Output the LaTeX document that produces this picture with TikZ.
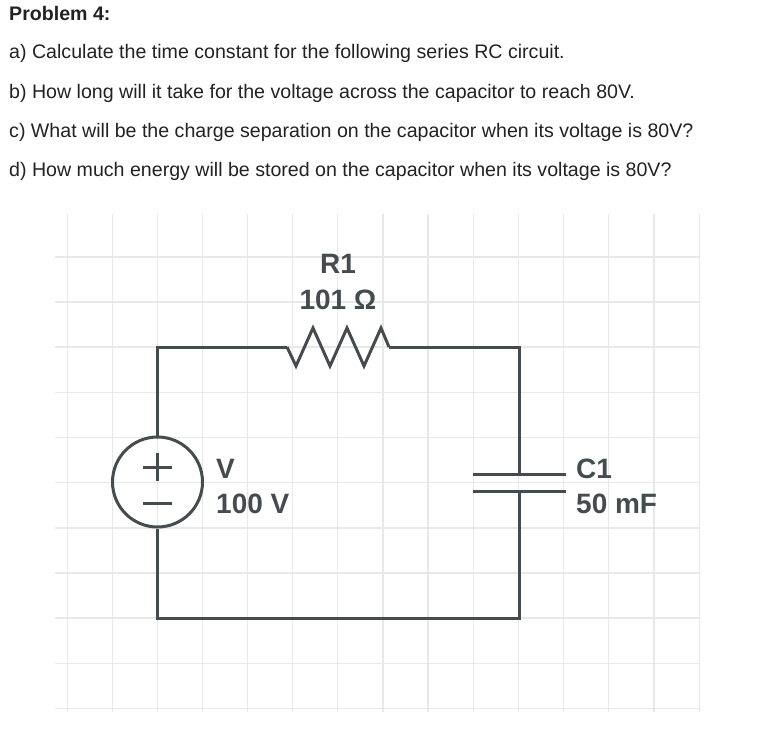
\documentclass[tikz,border=0pt]{standalone}
\usepackage{fontspec}
\setmainfont{Liberation Sans}
\usepackage{tikz}
\usetikzlibrary{calc,shapes}
\definecolor{wirecol}{HTML}{444C50}
\definecolor{gridcol}{HTML}{E8E8E8}
\definecolor{textcol}{HTML}{222222}
\tikzset{
	question/.style={anchor=base west,inner sep=0pt,text=textcol,font=\fontsize{19.6}{21}\selectfont},
	complabel/.style={anchor=base west,inner sep=0pt,text=wirecol,font=\fontsize{28}{30}\selectfont\bfseries},
	wire/.style={line width=3pt,draw=wirecol,line join=miter},
	gridline/.style={line width=1.5pt,draw=gridcol}
}

\begin{document}
\begin{tikzpicture}[x=1pt,y=-1pt]
\useasboundingbox (0,0) rectangle (757,739);
\foreach \gx in {67.5,112.5,157.5,202.5,247.5,292.5,337.5,383,428,473.5,518.5,563.5,608.5,654,699.5} {
	\draw [gridline] (\gx,214) -- (\gx,712);
}
\foreach \gy in {257,302,347,392.5,437.5,482.5,528,573,618,663.5,708.5} {
	\draw [gridline] (55,\gy) -- (700,\gy);
}
% text
\node [question,font=\fontsize{19.6}{21}\selectfont\bfseries] (title) at (9,20) {Problem 4:};
\node [question] (parta) at (9,58) {a) Calculate the time constant for the following series RC circuit.};
\node [question] (partb) at (9,98) {b) How long will it take for the voltage across the capacitor to reach 80V.};
\node [question] (partc) at (9,137) {c) What will be the charge separation on the capacitor when its voltage is 80V?};
\node [question] (partd) at (9,176) {d) How much energy will be stored on the capacitor when its voltage is 80V?};
% source
\node [circle,draw=wirecol,line width=3pt,minimum size=90pt,inner sep=0pt] (V1) at (157.5,482) {};
\coordinate (plusW) at (143,467);
\coordinate (plusE) at (172,467);
\coordinate (plusN) at (157.5,453);
\coordinate (plusS) at (157.5,481);
\coordinate (minusW) at (143,503);
\coordinate (minusE) at (172,503);
\draw [wire] (plusW) -- (plusE);
\draw [wire] (plusN) -- (plusS);
\draw [wire] (minusW) -- (minusE);
\node [complabel] (Vname) at (216,478) {V};
\node [complabel] (Vval) at (216,513) {100 V};
% resistor
\coordinate (R1in) at (287,347);
\coordinate (R1out) at (389,347);
\draw [wire] (R1in) -- (296,366) -- (313,328) -- (330,366) -- (347,328) -- (364,366) -- (381,328) -- (R1out);
\node [complabel,anchor=base] (R1name) at (338,273) {R1};
\node [complabel,anchor=base] (R1val) at (338,309) {101 Ω};
% capacitor
\coordinate (C1top) at (519,474);
\coordinate (C1bot) at (519,491);
\coordinate (C1topW) at (473,474);
\coordinate (C1topE) at (566,474);
\coordinate (C1botW) at (473,491);
\coordinate (C1botE) at (566,491);
\draw [wire] (C1topW) -- (C1topE);
\draw [wire] (C1botW) -- (C1botE);
\node [complabel] (C1name) at (576,478) {C1};
\node [complabel] (C1val) at (576,513) {50 mF};
% loop
\draw [wire] (V1.north) |- (R1in);
\draw [wire] (R1out) -| (C1top);
\draw [wire] (C1bot) |- (157.5,618) -- (V1.south);
\end{tikzpicture}
\end{document}
